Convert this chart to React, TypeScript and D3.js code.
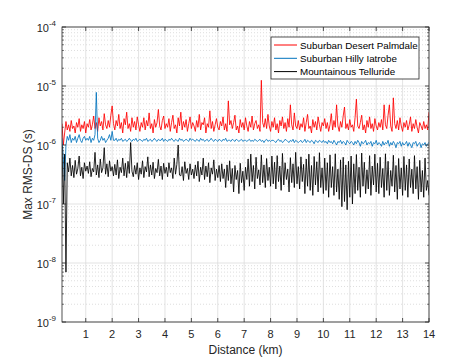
import React from 'react';
import * as d3 from 'd3';

// distance grid: first sample at 0.1 km, one sample every 0.05 km
const START_KM = 0.1;
const STEP_KM = 0.05;

// Suburban Desert Palmdale, max RMS delay spread in microseconds
const palmdaleUs = [
  2.3, 1.0, 1.6, 2.5, 1.8, 2.2, 1.7, 2.6, 1.9, 2.1, 1.6, 2.4, 2.0, 2.8, 1.7, 2.2, 1.9, 2.5, 1.6, 2.3,
  2.0, 2.7, 1.8, 2.2, 3.1, 1.9, 2.4, 1.7, 2.9, 2.1, 2.5, 1.8, 3.4, 2.2, 1.9, 2.6, 2.0, 3.2, 4.6, 2.3,
  1.8, 2.6, 2.1, 3.3, 1.9, 2.4, 1.6, 2.8, 2.2, 3.6, 1.9, 2.3, 1.7, 2.9, 2.0, 2.5, 1.8, 3.0, 2.2, 1.7,
  2.4, 2.0, 2.9, 1.8, 2.6, 2.1, 3.5, 1.9, 2.3, 1.6, 2.7, 2.0, 2.4, 4.0, 2.1, 1.8, 2.6, 3.1, 1.9, 2.3,
  2.0, 2.8, 1.7, 2.4, 3.2, 1.9, 2.2, 1.6, 2.9, 2.1, 3.6, 1.8, 2.5, 2.0, 2.7, 1.7, 2.3, 3.0, 1.9, 2.4,
  2.1, 1.7, 2.6, 2.0, 3.3, 1.8, 2.4, 2.2, 2.9, 1.6, 2.3, 2.0, 3.8, 1.9, 2.5, 1.7, 2.2, 2.8, 2.0, 1.8,
  2.5, 2.1, 3.0, 1.8, 2.3, 1.7, 5.6, 2.2, 2.6, 1.9, 2.4, 3.2, 1.8, 2.1, 1.6, 2.7, 2.0, 2.4, 1.8, 2.9,
  2.1, 1.7, 2.5, 2.0, 3.1, 1.8, 2.3, 2.6, 1.9, 2.2, 1.7, 12.5, 2.4, 2.0, 2.8, 1.9, 3.3, 2.1, 1.7, 2.5,
  2.0, 2.9, 1.8, 2.3, 1.6, 2.6, 2.1, 3.0, 1.9, 2.4, 1.7, 2.8, 2.0, 4.8, 2.2, 1.8, 3.5, 2.1, 1.9, 2.6,
  1.8, 2.3, 2.0, 2.9, 1.7, 2.4, 3.3, 1.9, 2.1, 1.6, 2.7, 2.0, 2.5, 1.8, 3.0, 2.2, 1.7, 2.4, 2.1, 2.8,
  1.9, 2.4, 1.7, 2.2, 3.4, 1.8, 2.6, 2.0, 4.8, 2.1, 1.7, 2.5, 2.0, 3.1, 4.4, 1.9, 2.3, 1.8, 2.7, 2.0,
  2.2, 1.7, 2.9, 6.0, 2.1, 1.9, 2.4, 3.2, 1.8, 2.2, 1.6, 2.6, 2.0, 3.0, 1.9, 2.3, 1.7, 2.8, 2.1, 1.8,
  2.4, 2.0, 2.7, 1.8, 4.8, 2.2, 1.9, 3.2, 4.8, 2.1, 1.7, 6.3, 2.3, 1.9, 2.6, 1.8, 2.9, 2.1, 1.7, 2.4,
  2.0, 2.6, 1.8, 2.2, 3.0, 1.7, 2.3, 1.9, 2.7, 2.0, 1.6, 2.4, 2.1, 1.8, 2.5, 1.9, 2.2, 1.8, 3.6,
];

// Suburban Hilly Iatrobe, microseconds
const iatrobeUs = [
  1.3, 0.6, 0.25, 1.0, 1.4, 1.2, 1.5, 1.1, 1.3, 1.2, 1.4, 1.1, 1.3, 1.5, 1.2, 1.1, 1.3, 1.4, 1.2, 1.3,
  1.2, 1.4, 1.1, 1.3, 1.2, 1.5, 7.8, 1.3, 1.1, 1.2, 1.4, 1.2, 1.3, 1.1, 1.2, 1.3, 1.5, 1.2, 1.7, 1.2,
  1.2, 1.3, 1.15, 1.25, 1.2, 1.3, 1.15, 1.2, 1.25, 1.15, 1.2, 1.3, 1.2, 1.15, 1.25, 1.2, 1.3, 1.15, 1.2, 1.25,
  1.2, 1.15, 1.25, 1.2, 1.3, 1.15, 1.2, 1.25, 1.15, 1.2, 1.3, 1.2, 1.15, 1.25, 1.2, 1.2, 1.3, 1.15, 1.25, 1.2,
  1.15, 1.25, 1.2, 1.3, 1.2, 1.15, 1.25, 1.2, 1.15, 1.3, 1.2, 1.25, 1.15, 1.2, 1.25, 1.2, 1.15, 1.3, 1.2, 1.25,
  1.2, 1.15, 1.25, 1.2, 1.15, 1.3, 1.2, 1.25, 1.15, 1.2, 1.25, 1.15, 1.2, 1.3, 1.2, 1.15, 1.25, 1.2, 1.15, 1.25,
  1.2, 1.15, 1.25, 1.2, 1.3, 1.15, 1.2, 1.2, 1.15, 1.25, 1.2, 1.15, 1.25, 1.2, 1.15, 1.2, 1.25, 1.15, 1.2, 1.2,
  1.15, 1.2, 1.25, 1.15, 1.2, 1.15, 1.25, 1.2, 1.15, 1.2, 1.25, 1.15, 1.2, 1.1, 1.2, 1.25, 1.15, 1.2, 1.15, 1.2,
  1.2, 1.15, 1.1, 1.2, 1.25, 1.15, 1.2, 1.1, 1.15, 1.25, 1.2, 1.15, 1.1, 1.2, 1.15, 1.25, 1.1, 1.2, 1.15, 1.1,
  1.15, 1.2, 1.1, 1.15, 1.25, 1.1, 1.2, 1.15, 1.1, 1.2, 1.15, 1.05, 1.2, 1.15, 1.1, 1.2, 1.15, 1.1, 1.2, 1.1,
  1.15, 1.05, 1.2, 1.1, 1.15, 1.05, 1.2, 1.1, 1.0, 1.15, 1.1, 1.2, 1.05, 1.15, 1.1, 1.0, 1.2, 1.1, 1.05, 1.15,
  1.1, 1.0, 1.15, 1.05, 1.2, 1.1, 0.95, 1.15, 1.05, 1.1, 1.2, 1.0, 1.1, 1.05, 1.15, 0.95, 1.1, 1.05, 1.2, 1.0,
  1.1, 1.05, 0.95, 1.15, 1.0, 1.1, 1.05, 1.2, 0.95, 1.1, 1.0, 1.15, 1.05, 0.9, 1.1, 1.05, 1.15, 0.95, 1.1, 1.0,
  1.05, 1.15, 0.95, 1.1, 1.0, 0.9, 1.1, 1.05, 1.15, 0.95, 1.05, 1.1, 0.9, 1.05, 1.0, 1.1, 0.95, 1.05, 1.1,
];

// Mountainous Telluride, in units of 1e-7 s
const tellurideE7 = [
  9.5, 1.0, 7.0, 0.07, 5.0, 3.5, 6.0, 3.0, 4.5, 2.8, 5.5, 3.2, 4.0, 6.5, 3.0, 4.2, 2.7, 5.0, 3.6, 4.4,
  3.3, 5.2, 2.9, 4.0, 3.5, 7.5, 3.1, 4.6, 2.8, 5.8, 3.4, 4.1, 9.0, 3.2, 4.8, 2.9, 5.4, 3.6, 4.3, 3.0,
  4.7, 3.1, 5.6, 2.7, 4.2, 3.4, 6.0, 3.0, 4.9, 2.8, 5.3, 3.3, 11.0, 3.6, 2.9, 4.5, 3.2, 5.0, 2.6, 4.1,
  3.2, 5.4, 2.8, 4.3, 3.5, 6.3, 2.9, 4.6, 3.1, 5.1, 2.7, 4.0, 3.4, 5.7, 3.0, 4.4, 2.6, 4.9, 3.3, 4.2,
  2.9, 5.0, 3.4, 4.1, 2.7, 6.0, 3.2, 4.7, 10.0, 3.1, 3.0, 4.3, 2.5, 5.2, 3.3, 4.0, 2.6, 4.8, 3.1, 3.9,
  2.7, 4.6, 3.0, 5.3, 2.4, 4.2, 3.1, 6.0, 2.6, 4.4, 2.9, 5.0, 2.3, 4.1, 3.2, 5.6, 2.5, 3.9, 2.8, 4.5,
  2.4, 4.8, 2.7, 3.9, 1.9, 4.6, 2.5, 5.4, 2.2, 4.0, 1.6, 4.5, 2.6, 3.7, 1.5, 4.9, 2.3, 3.6, 1.7, 4.2,
  2.6, 5.8, 2.0, 7.0, 2.4, 4.5, 1.8, 6.2, 2.7, 3.8, 2.1, 6.8, 2.3, 4.6, 1.9, 5.9, 2.5, 4.2, 2.0, 6.5,
  2.2, 5.1, 1.8, 6.6, 2.4, 4.4, 1.7, 7.2, 2.1, 5.0, 2.6, 3.9, 1.6, 6.1, 2.3, 4.8, 1.9, 7.5, 2.2, 4.3,
  1.8, 6.3, 2.4, 4.7, 1.5, 5.8, 2.0, 7.0, 1.7, 4.5, 1.4, 6.4, 2.1, 5.2, 1.6, 7.4, 1.9, 4.1, 1.5, 6.0,
  1.7, 5.0, 1.3, 6.8, 1.9, 4.3, 1.4, 7.1, 1.6, 3.9, 1.2, 5.6, 0.9, 6.2, 1.1, 4.6, 0.8, 5.3, 1.3, 6.5,
  1.0, 4.8, 1.5, 6.9, 1.7, 4.2, 1.3, 7.3, 2.0, 5.1, 1.5, 3.8, 1.8, 6.6, 1.4, 4.4, 2.1, 7.0, 1.6, 4.9,
  1.5, 6.2, 1.9, 4.0, 1.3, 7.1, 1.7, 5.3, 1.4, 3.7, 2.0, 6.7, 1.6, 4.5, 1.2, 5.9, 1.8, 4.1, 1.4, 6.4,
  1.7, 4.6, 1.3, 5.8, 1.9, 3.9, 1.5, 6.6, 1.8, 4.3, 1.2, 5.5, 1.6, 3.7, 1.3, 6.0, 1.7, 2.5, 1.4,
];

const seriesNames = ['Suburban Desert Palmdale', 'Suburban Hilly Iatrobe', 'Mountainous Telluride'];
const seriesColors = ['#ff0000', '#0072bd', '#000000'];
const xTicks = [1, 2, 3, 4, 5, 6, 7, 8, 9, 10, 11, 12, 13, 14];
const yExponents = [-9, -8, -7, -6, -5, -4];

const W = 474;
const H = 362;
const M = { left: 62, right: 45, top: 27, bottom: 40 };
const FONT = '"Liberation Sans", Arial, Helvetica, sans-serif';
const AXIS = '#262626';

export default function App() {
  const x = d3.scaleLinear().domain([START_KM, 14]).range([M.left, W - M.right]);
  const y = d3.scaleLog().domain([1e-9, 1e-4]).range([H - M.bottom, M.top]);
  const [x0, x1] = x.range();
  const [y0, y1] = y.range();

  const series = [
    palmdaleUs.map((v) => v * 1e-6),
    iatrobeUs.map((v) => v * 1e-6),
    tellurideE7.map((v) => v * 1e-7),
  ];

  const line = d3
    .line<number>()
    .x((_, i) => x(START_KM + i * STEP_KM))
    .y((v) => y(v));

  // minor log ticks 2..9 within each decade
  const minorY: number[] = [];
  yExponents.slice(0, -1).forEach((e) => {
    for (let k = 2; k <= 9; k++) minorY.push(k * Math.pow(10, e));
  });

  return (
    <svg width={W} height={H} style={{ position: 'absolute', left: 0, top: 0 }} fontFamily={FONT}>
      <rect width={W} height={H} fill="#fff" />
      <defs>
        <clipPath id="plot">
          <rect x={x0} y={y1} width={x1 - x0} height={y0 - y1} />
        </clipPath>
      </defs>

      {/* grid */}
      {minorY.map((v) => (
        <line key={'gm' + v} x1={x0} x2={x1} y1={y(v)} y2={y(v)} stroke="#c8c8c8" strokeWidth={0.6} strokeDasharray="1,2" />
      ))}
      {yExponents.map((e) => (
        <line key={'gy' + e} x1={x0} x2={x1} y1={y(Math.pow(10, e))} y2={y(Math.pow(10, e))} stroke="#dcdcdc" strokeWidth={0.8} />
      ))}
      {xTicks.map((t) => (
        <line key={'gx' + t} x1={x(t)} x2={x(t)} y1={y0} y2={y1} stroke="#dcdcdc" strokeWidth={0.8} />
      ))}

      {/* data */}
      <g clipPath="url(#plot)">
        {series.map((s, i) => (
          <path key={i} d={line(s) ?? ''} fill="none" stroke={seriesColors[i]} strokeWidth={0.85} strokeLinejoin="round" />
        ))}
      </g>

      {/* axes box and ticks */}
      <rect x={x0} y={y1} width={x1 - x0} height={y0 - y1} fill="none" stroke={AXIS} strokeWidth={0.8} />
      {xTicks.map((t) => (
        <g key={'tx' + t} stroke={AXIS} strokeWidth={0.8}>
          <line x1={x(t)} x2={x(t)} y1={y0} y2={y0 - 4} />
          <line x1={x(t)} x2={x(t)} y1={y1} y2={y1 + 4} />
        </g>
      ))}
      {yExponents.map((e) => (
        <g key={'ty' + e} stroke={AXIS} strokeWidth={0.8}>
          <line x1={x0} x2={x0 + 4} y1={y(Math.pow(10, e))} y2={y(Math.pow(10, e))} />
          <line x1={x1} x2={x1 - 4} y1={y(Math.pow(10, e))} y2={y(Math.pow(10, e))} />
        </g>
      ))}
      {minorY.map((v) => (
        <g key={'tm' + v} stroke={AXIS} strokeWidth={0.6}>
          <line x1={x0} x2={x0 + 2} y1={y(v)} y2={y(v)} />
          <line x1={x1} x2={x1 - 2} y1={y(v)} y2={y(v)} />
        </g>
      ))}

      {/* tick labels */}
      {xTicks.map((t) => (
        <text key={'lx' + t} x={x(t)} y={y0 + 16} textAnchor="middle" fontSize={11} fill={AXIS}>
          {t}
        </text>
      ))}
      {yExponents.map((e) => (
        <text key={'ly' + e} x={x0 - 6} y={y(Math.pow(10, e)) + 5} textAnchor="end" fontSize={11} fill={AXIS}>
          10
          <tspan fontSize={8} dy={-6}>
            {e}
          </tspan>
        </text>
      ))}

      {/* axis titles */}
      <text x={(x0 + x1) / 2} y={354} textAnchor="middle" fontSize={12} fill={AXIS}>
        Distance (km)
      </text>
      <text transform={`translate(32,${(y0 + y1) / 2}) rotate(-90)`} textAnchor="middle" fontSize={12} fill={AXIS}>
        Max RMS-DS (s)
      </text>

      {/* legend */}
      <g>
        <rect x={271} y={37} width={148} height={42} fill="#fff" stroke={AXIS} strokeWidth={0.8} />
        {seriesNames.map((name, i) => (
          <g key={name} transform={`translate(0,${45 + i * 13.3})`}>
            <line x1={274} x2={297} y1={0} y2={0} stroke={seriesColors[i]} strokeWidth={1} />
            <text x={300} y={3.6} fontSize={9.8} fill="#000">
              {name}
            </text>
          </g>
        ))}
      </g>
    </svg>
  );
}
